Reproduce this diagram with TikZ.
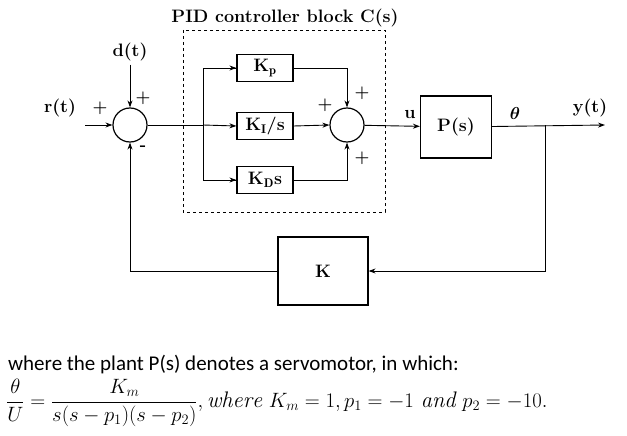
\documentclass[tikz,border=0pt]{standalone}
\usepackage{fontspec}
\usepackage{amsmath}
\newfontfamily\sansf{Carlito}
\usetikzlibrary{arrows.meta}
\begin{document}
\begin{tikzpicture}[x=1pt,y=-1pt,
  blk/.style={draw,line width=1.2pt,minimum width=56pt,minimum height=27pt,font=\bfseries\fontsize{18}{20}\selectfont},
  sum/.style={draw,circle,line width=1.2pt,minimum size=34pt,inner sep=0pt},
  lab/.style={font=\bfseries\fontsize{18}{20}\selectfont},
  sg/.style={font=\bfseries\fontsize{17}{19}\selectfont},
  ar/.style={-{Stealth[length=7pt,width=5pt]},line width=0.9pt},
  ln/.style={line width=0.9pt}]
\useasboundingbox (0,0) rectangle (627,436);
\node[lab] (title) at (285,18) {PID controller block C(s)};
\draw[dashed,line width=0.9pt] (183,30) rectangle (385,212);
\node[sum] (s1) at (130,125) {};
\node[sum] (s2) at (347,125) {};
\node[blk] (kp) at (265,68) {K$_{\mathbf p}$};
\node[blk] (ki) at (265,126) {K$_{\mathbf I}$/s};
\node[blk] (kd) at (265,180) {K$_{\mathbf D}$s};
\node[blk,minimum width=71pt,minimum height=62pt] (P) at (456,127) {P(s)};
\node[blk,minimum width=90pt,minimum height=68pt] (K) at (323,271) {K};
\node[lab] (d) at (130,52) {d(t)};
\node[lab] (r) at (60,108) {r(t)};
\node[lab] (y) at (590,108) {y(t)};
\node[lab] (u) at (410,115) {u};
\node[lab] (th) at (515,113) {$\boldsymbol\theta$};
\node[sg] at (100,108) {+};
\node[sg] at (143,98) {+};
\node[sg] at (143,148) {-};
\node[sg] at (325,105) {+};
\node[sg] at (362,93) {+};
\node[sg] at (362,158) {+};
\coordinate (rin) at (85,125);
\coordinate (br) at (203,125);
\coordinate (yo) at (605,125);
\coordinate (fb) at (545,125);
\draw[ar] (rin) -- (s1);
\draw[ar] (d) -- (s1);
\draw[ln] (s1) -- (br);
\draw[ln] (br) |- (kp.west) ; \draw[ar] (br|-kp.west) -- (kp.west);
\draw[ar] (br) -- (ki.west);
\draw[ln] (br) |- (kd.west); \draw[ar] (br|-kd.west) -- (kd.west);
\draw[ar] (kp.east) -| (s2.north);
\draw[ar] (ki.east) -- (s2.west);
\draw[ar] (kd.east) -| (s2.south);
\draw[ar] (s2) -- (P);
\draw[ar] (P) -- (yo);
\draw[ar] (fb) |- (K.east);
\draw[ar] (K.west) -| (s1.south);
\node[anchor=west,inner sep=0pt,font=\sansf\fontsize{21}{24}\selectfont] (t1) at (8,365) {where the plant P(s) denotes a servomotor, in which:};
\node[anchor=west,inner sep=0pt,font=\fontsize{22.5}{26}\selectfont] (t2) at (6,403) {$\dfrac{\theta}{U}=\dfrac{K_m}{s(s-p_1)(s-p_2)},\mathit{where}\ K_m=1,p_1=-1\ \mathit{and}\ p_2=-10.$};
\end{tikzpicture}
\end{document}
